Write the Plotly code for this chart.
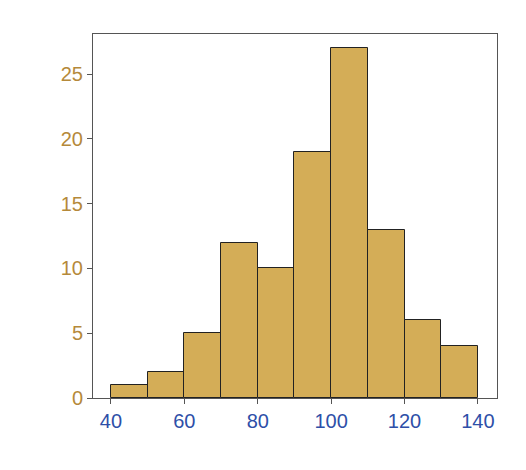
import plotly.graph_objects as go

bin_starts = [40, 50, 60, 70, 80, 90, 100, 110, 120, 130]
bin_width = 10
counts = [1, 2, 5, 12, 10, 19, 27, 13, 6, 4]

fig = go.Figure(go.Bar(
    x=[b + bin_width / 2 for b in bin_starts], y=counts, width=bin_width,
    marker=dict(color="#d4ad57", line=dict(color="#222222", width=1)),
))
fig.update_layout(
    width=526, height=470, margin=dict(l=85, r=37, t=26, b=80),
    plot_bgcolor="white", paper_bgcolor="white", showlegend=False,
    font=dict(family="Arial", size=20),
    bargap=0,
)
fig.update_xaxes(range=[35.1, 145.2], tickvals=[40, 60, 80, 100, 120, 140],
                 tickfont=dict(color="#2e4fa8"), showgrid=False, zeroline=False,
                 showline=True, linecolor="#555555", mirror=True,
                 ticks="outside", ticklen=5, tickcolor="#555555")
fig.update_yaxes(range=[0, 28.1], tickvals=[0, 5, 10, 15, 20, 25],
                 tickfont=dict(color="#b5893a"), showgrid=False, zeroline=False,
                 showline=True, linecolor="#555555", mirror=True,
                 ticks="outside", ticklen=5, tickcolor="#555555")
fig.write_html("out.html")
